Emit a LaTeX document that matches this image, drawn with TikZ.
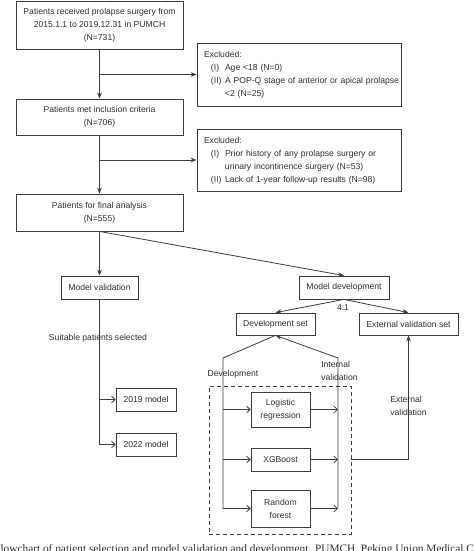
\documentclass[tikz,border=0pt]{standalone}
\usepackage{fontspec}
\setmainfont{Liberation Sans}
\newfontfamily\capfont{Liberation Serif}
\usetikzlibrary{arrows.meta,positioning}
\definecolor{fcLine}{HTML}{3C3C3C}
\definecolor{fcText}{HTML}{2E2E2E}

\begin{document}
\begin{tikzpicture}[x=0.75pt,y=-0.75pt,
  font=\fontsize{6.45}{9.75}\selectfont, text=fcText,
  b/.style 2 args={draw=fcLine,line width=0.6pt,inner sep=0pt,align=center,
            minimum width=#1,minimum height=#2},
  ex/.style={draw=fcLine,line width=0.6pt,inner ysep=0pt,inner xsep=5.25pt,
            text width=142.5pt,align=left},
  l/.style={inner sep=0pt,align=left},
  a/.style={-{Stealth[length=4.5pt,width=3.5pt]},fcLine,line width=0.6pt},
  o/.style={-{Straight Barb[length=2.6pt,width=5pt]},fcLine,line width=0.6pt},
  p/.style={fcLine,line width=0.6pt}]
\useasboundingbox (0,0) rectangle (474,551);
% selection of patients
\node[b={125.25pt}{36pt}] (pts) at (99.5,25) {Patients received prolapse surgery from\\2015.1.1 to 2019.12.31 in PUMCH\\(N=731)};
\node[ex,minimum height=47.25pt] (ex1) at (299,74.5) {\begin{tabular}{@{\hspace{5.25pt}}p{10.5pt}@{}l@{}}
  \multicolumn{2}{@{}l@{}}{Excluded:}\\
  (I) & Age <18 (N=0)\\
  (II) & A POP-Q stage of anterior or apical prolapse\\
   & <2 (N=25)
  \end{tabular}};
\node[b={125.25pt}{27pt}] (inc) at (99.5,117) {Patients met inclusion criteria\\(N=706)};
\node[ex,minimum height=46.5pt] (ex2) at (299,160) {\begin{tabular}{@{\hspace{5.25pt}}p{10.5pt}@{}l@{}}
  \multicolumn{2}{@{}l@{}}{Excluded:}\\
  (I) & Prior history of any prolapse surgery or\\
   & urinary incontinence surgery (N=53)\\
  (II) & Lack of 1-year follow-up results (N=98)
  \end{tabular}};
\node[b={125.25pt}{27.75pt}] (fin) at (99.5,212.5) {Patients for final analysis\\(N=555)};
\draw[a] (pts) -- (inc);
\draw[a] (pts.south |- ex1.west) -- (ex1.west);
\draw[a] (inc) -- (fin);
\draw[a] (inc.south |- ex2.west) -- (ex2.west);
% validation and development
\node[b={57.75pt}{17.25pt}] (mv) at (99.5,287.5) {Model validation};
\node[b={67.5pt}{17.25pt}] (md) at (344,287.5) {Model development};
\node[b={59.25pt}{16.5pt}] (ds) at (275.5,324) {Development set};
\node[b={74.25pt}{16.5pt}] (es) at (408.5,324) {External validation set};
\node[l] (r41) at (343,308) {4:1};
\draw[a] (fin.south) -- (mv);
\draw[a] (fin.south) -- (md.north);
\draw[a] (md.south) -- (ds.north);
\draw[a] (md.south) -- (es.north);
\node[b={45pt}{17.25pt}] (m19) at (146,399.5) {2019 model};
\node[b={45pt}{17.25pt}] (m22) at (146,444.5) {2022 model};
\draw[o] (mv.south) |- (m22.west);
\draw[o] (mv.south |- m19.west) -- (m19.west);
\node[l] (sps) at (98,338) {Suitable patients selected};
% the three models
\node[draw=fcLine,line width=0.6pt,dash pattern=on 3pt off 2.25pt,inner sep=0pt,
      minimum width=106.5pt,minimum height=111pt] (dbx) at (280,460) {};
\node[b={44.25pt}{26.25pt}] (lr) at (280.5,409.5) {Logistic\\regression};
\node[b={44.25pt}{17.25pt}] (xg) at (280.5,459.5) {XGBoost};
\node[b={44.25pt}{27.75pt}] (rf) at (280.5,508.5) {Random\\forest};
\coordinate (dl) at (223,358);
\coordinate (dr) at (338,358);
\draw[o] (ds.south) -- (dl) |- (rf.west);
\draw[o] (dl |- lr.west) -- (lr.west);
\draw[o] (dl |- xg.west) -- (xg.west);
\draw[o] (lr.east) -- (dr |- lr.east);
\draw[o] (xg.east) -- (dr |- xg.east);
\draw[o] (rf.east) -- (dr |- rf.east);
\draw[a] (dr |- rf.east) -- (dr) -- (ds.south);
\draw[a] (dbx.east |- xg.east) -| (es.south);
\node[l] (dev) at (233,374) {Development};
\node[l,anchor=west] (iv) at (321,370.5) {Internal\\validation};
\node[l,anchor=west] (ev) at (390,405.5) {External\\validation};
% caption, cut by the page
\node[inner sep=0pt,anchor=base west,font=\capfont\fontsize{8.5}{10}\selectfont] (cap)
  at (-6,552.7) {Flowchart of patient selection and model validation and development. PUMCH, Peking Union Medical College};
\end{tikzpicture}
\end{document}
